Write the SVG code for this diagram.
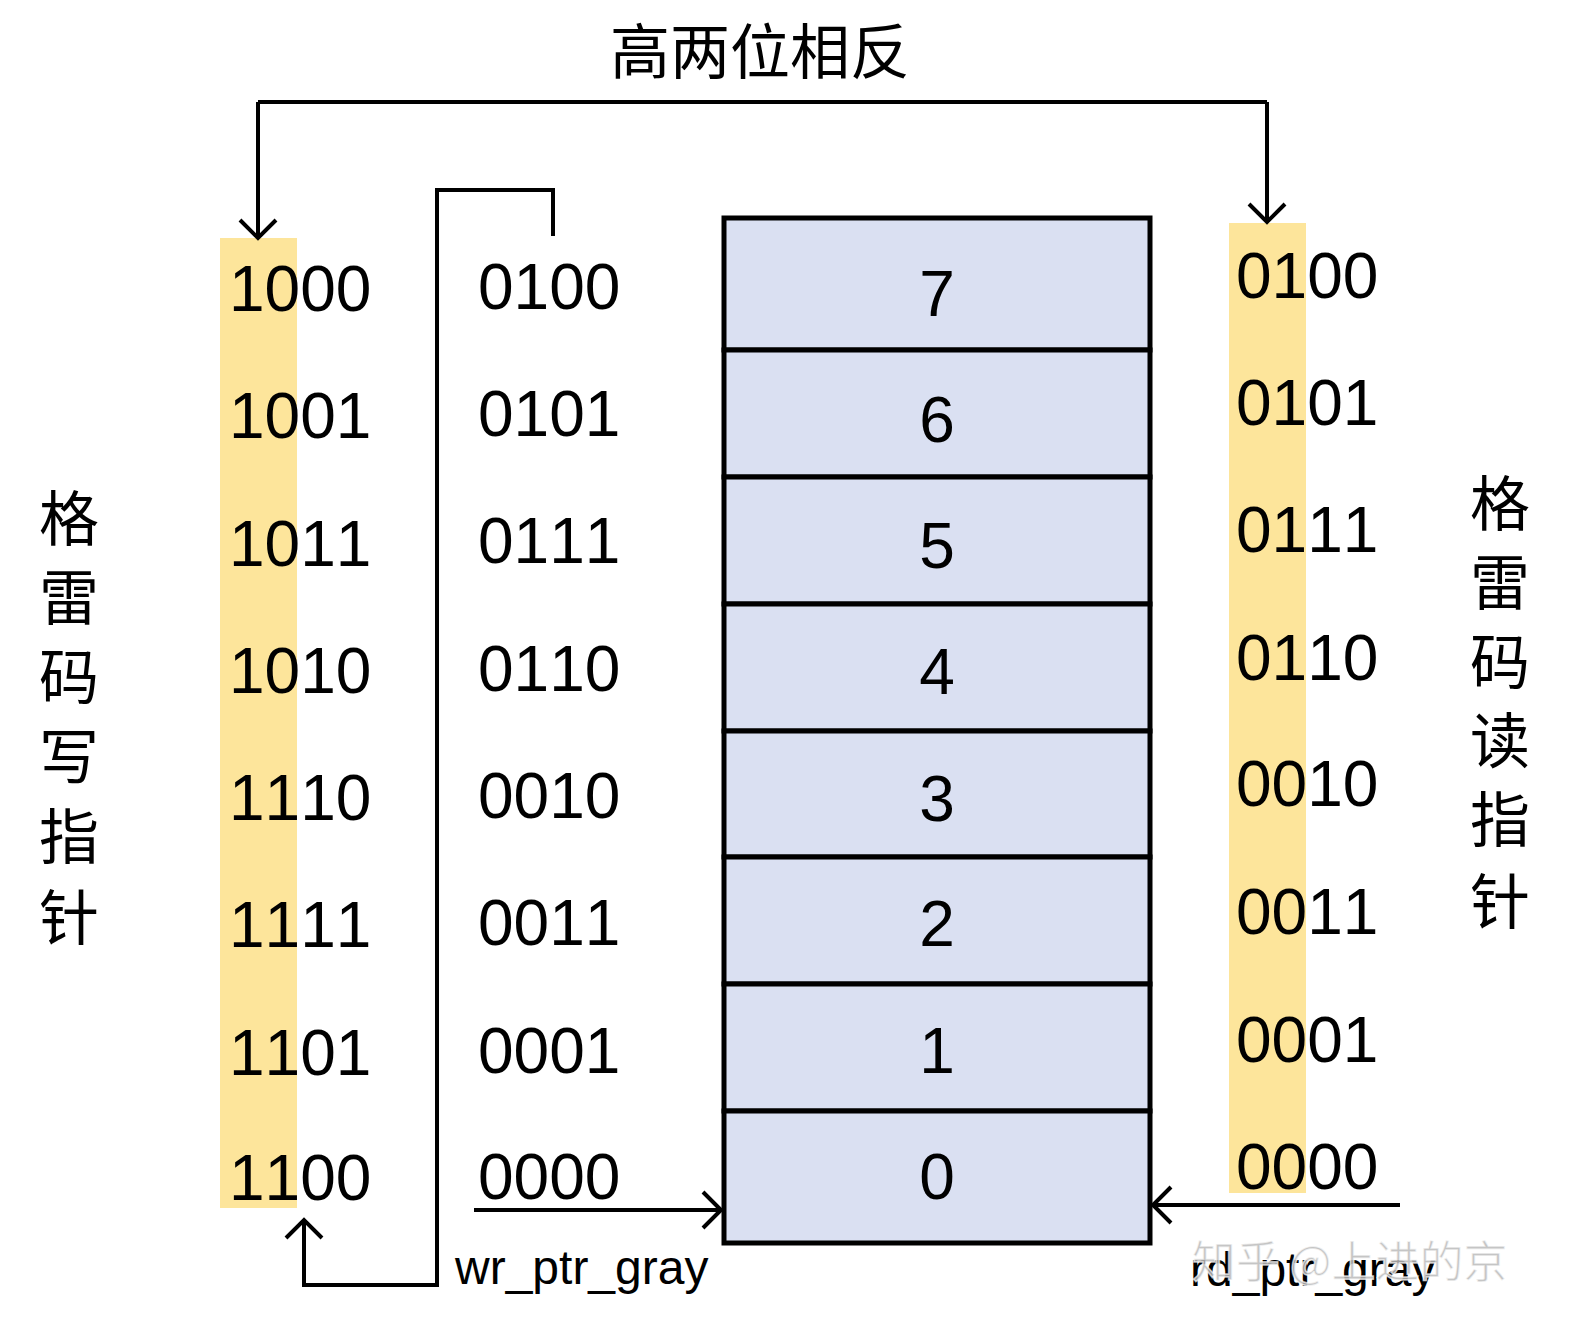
<svg xmlns="http://www.w3.org/2000/svg" width="1572" height="1328" viewBox="0 0 1572 1328">
<style>
text{font-kerning:none;font-feature-settings:"kern" 0}
.num{font-family:"Liberation Sans",Arial,sans-serif;font-size:64px;fill:#000}
.cell{fill:#dae0f2;stroke:#000;stroke-width:5}
.band{fill:#fde59b}
.cjk{font-family:"Noto Sans CJK SC","Liberation Sans",sans-serif;font-size:60px;fill:#000}
.lbl{font-family:"Liberation Sans",Arial,sans-serif;font-size:48px;fill:#000}
.wire{fill:none;stroke:#000;stroke-width:4}
</style>
<defs>
<marker id="v" markerUnits="userSpaceOnUse" markerWidth="40" markerHeight="40" refX="20" refY="20" orient="auto" viewBox="0 0 40 40">
<path d="M2,2 L20,20 L2,38" fill="none" stroke="#000" stroke-width="4"/>
</marker>
</defs>
<rect width="1572" height="1328" fill="#fff"/>
<g id="title"><text class="cjk" x="760" y="74" text-anchor="middle" font-size="66">高两位相反</text></g>
<g id="bands">
<rect class="band" x="220" y="238" width="77" height="970"/>
<rect class="band" x="1229" y="223" width="77" height="970"/>
</g>
<g id="memory">
<rect class="cell" x="724" y="218" width="426" height="132"/>
<rect class="cell" x="724" y="350" width="426" height="127"/>
<rect class="cell" x="724" y="477" width="426" height="127"/>
<rect class="cell" x="724" y="604" width="426" height="127"/>
<rect class="cell" x="724" y="731" width="426" height="126"/>
<rect class="cell" x="724" y="857" width="426" height="127"/>
<rect class="cell" x="724" y="984" width="426" height="127"/>
<rect class="cell" x="724" y="1111" width="426" height="132"/>
<g class="num" text-anchor="middle">
<text x="937" y="316">7</text>
<text x="937" y="442">6</text>
<text x="937" y="568">5</text>
<text x="937" y="694">4</text>
<text x="937" y="821">3</text>
<text x="937" y="946">2</text>
<text x="937" y="1073">1</text>
<text x="937" y="1199">0</text>
</g>
</g>
<g id="wr-col" class="num">
<text x="229" y="311">1000</text>
<text x="229" y="438">1001</text>
<text x="229" y="566">1011</text>
<text x="229" y="693">1010</text>
<text x="229" y="820">1110</text>
<text x="229" y="947">1111</text>
<text x="229" y="1075">1101</text>
<text x="229" y="1200">1100</text>
</g>
<g id="bin-col" class="num">
<text x="478" y="309">0100</text>
<text x="478" y="436">0101</text>
<text x="478" y="563">0111</text>
<text x="478" y="691">0110</text>
<text x="478" y="818">0010</text>
<text x="478" y="945">0011</text>
<text x="478" y="1073">0001</text>
<text x="478" y="1199">0000</text>
</g>
<g id="rd-col" class="num">
<text x="1236" y="298">0100</text>
<text x="1236" y="425">0101</text>
<text x="1236" y="552">0111</text>
<text x="1236" y="680">0110</text>
<text x="1236" y="806">0010</text>
<text x="1236" y="934">0011</text>
<text x="1236" y="1062">0001</text>
<text x="1236" y="1189">0000</text>
</g>
<g id="wr-label" class="cjk" text-anchor="middle">
<text x="69" y="541">格</text>
<text x="69" y="620">雷</text>
<text x="69" y="699">码</text>
<text x="69" y="779">写</text>
<text x="69" y="859">指</text>
<text x="69" y="940">针</text>
</g>
<g id="rd-label" class="cjk" text-anchor="middle">
<text x="1500" y="526">格</text>
<text x="1500" y="605">雷</text>
<text x="1500" y="684">码</text>
<text x="1500" y="763">读</text>
<text x="1500" y="842">指</text>
<text x="1500" y="924">针</text>
</g>
<g id="connectors">
<path class="wire" d="M258,102 H1267" />
<path class="wire" d="M258,102 V238" marker-end="url(#v)"/>
<path class="wire" d="M1267,102 V222" marker-end="url(#v)"/>
<path class="wire" d="M553,236 V190 H437 V1285 H304 V1220" marker-end="url(#v)"/>
<path class="wire" d="M474,1210 H721" marker-end="url(#v)"/>
<path class="wire" d="M1400,1205 H1153" marker-end="url(#v)"/>
</g>
<g id="ptr-labels" class="lbl">
<text x="455" y="1284">wr_ptr_gray</text>
<text x="1190" y="1286">rd_ptr_gray</text>
</g>
<g id="watermark">
<text x="1192" y="1278" font-family="Noto Sans CJK SC,sans-serif" font-size="44" fill="#bbb" fill-opacity="0.85" stroke="#fff" stroke-width="1.5" stroke-opacity="0.7">知乎 @上进的京</text>
</g>
</svg>
